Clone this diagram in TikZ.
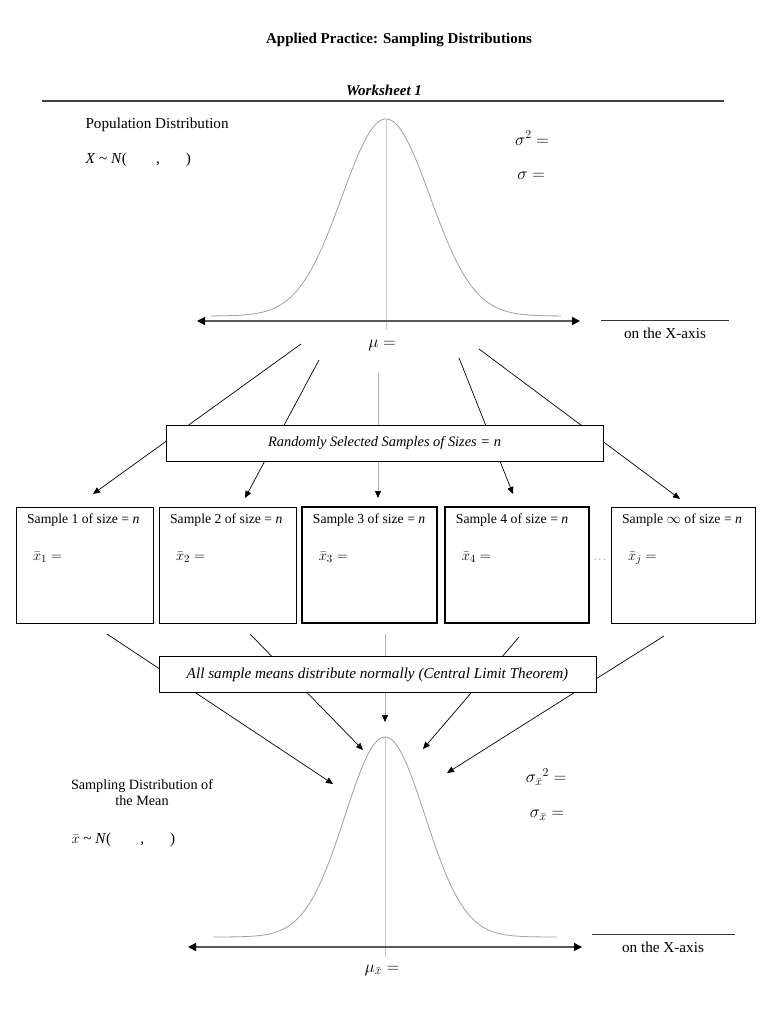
\documentclass[tikz,border=0pt]{standalone}
\usepackage{fontspec}
\setmainfont{Liberation Serif}
\usetikzlibrary{arrows.meta,positioning}

\tikzset{
  bell/.style={draw=gray!75, line width=0.8pt},
  midline/.style={draw=gray!45, line width=0.8pt},
  axis/.style={draw=black!65, line width=1.4pt, {Triangle[width=8pt,length=8pt,color=black]}-{Triangle[width=8pt,length=8pt,color=black]}},
  link/.style={line width=0.7pt, -{Triangle[width=6pt,length=7pt,color=black]}},
  samplebox/.style={draw, fill=white, minimum height=116pt, inner sep=0pt},
  banner/.style={draw, line width=0.9pt, fill=white, minimum width=437pt, minimum height=36pt},
  mathlbl/.style={font=\fontsize{16.5}{18}\selectfont},
  blank/.style={draw=black!80, line width=1pt}
}

\begin{document}
\begin{tikzpicture}[x=1pt,y=-1pt,font=\fontsize{15.2}{17}\selectfont]
\useasboundingbox[fill=white] (0,0) rectangle (768,1024);

% heading
\node[font=\fontsize{15}{17}\selectfont\bfseries] (title) at (399,40) {Applied Practice: Sampling Distributions};
\node[font=\fontsize{15}{17}\selectfont\bfseries\itshape] (sheet) at (384,90) {Worksheet 1};
\draw[draw=black!75, line width=1.4pt] (42,101) -- (724,101);

% population curve
\draw[midline] (386,119) -- (386,330);
\draw[bell] plot[domain=-175:175, samples=120, smooth] ({386+\x},{316-197*exp(-0.5*(\x/44)^2)});
\draw[axis] (197,321) -- (580,321);
\node[anchor=west] (pop) at (82,125) {Population Distribution};
\node[anchor=west] (popdist) at (82,160) {\textit{X} \textasciitilde{} \textit{N}(\hspace{29pt},\hspace{26pt})};
\node[mathlbl] (popvar) at (532,138) {$\sigma^2 =$};
\node[mathlbl] (popsd) at (531,176) {$\sigma =$};
\node[mathlbl] (popmean) at (382,345) {$\mu =$};
\draw[blank] (601,320) -- (729,320);
\node (popunit) at (665,333) {on the X-axis};

% curve to samples
\foreach \n/\xa/\ya/\xb/\yb/\c in {1/301/344/93/494/black, 2/319/360/245/498/black, 3/378/373/378/498/gray!60, 4/459/358/513/494/black, 5/479/349/680/499/black}{
  \coordinate (top\n) at (\xa,\ya);
  \coordinate (pick\n) at (\xb,\yb);
  \draw[link, draw=\c] (top\n) -- (pick\n);
}
\node[banner, font=\fontsize{14.4}{16}\selectfont\itshape] (random) at (384.5,443) {Randomly Selected Samples of Sizes = \textit{n}};

% samples
\foreach \n/\lab/\sub/\cx/\w/\lw in {1/1/1/84.5/137/0.9, 2/2/2/227.5/137/0.9, 3/3/3/369.5/135/1.3, 4/4/4/517/144/1.3, 5/{$\infty$}/j/683/144/0.9}{
  \node[samplebox, line width=\lw pt, minimum width=\w pt] (s\n) at (\cx,565) {};
  \node[below right=4pt and 8pt of s\n.north west, font=\fontsize{13.7}{15}\selectfont] (s\n-head) {Sample \lab{} of size = \textit{n}};
  \node[below right=42pt and 14pt of s\n.north west] (s\n-mean) {$\bar{x}_{\sub} =$};
}
\node[text=gray] (dots) at (600,560) {\fontsize{11}{12}\selectfont$\cdots$};

% samples to sampling distribution
\foreach \n/\xa/\ya/\xb/\yb/\c in {1/107/634/333/784/black, 2/250/634/363/750/black, 3/385/634/385/722/gray!60, 4/519/637/423/749/black, 5/664/636/447/773/black}{
  \coordinate (low\n) at (\xa,\ya);
  \coordinate (hit\n) at (\xb,\yb);
  \draw[link, draw=\c] (low\n) -- (hit\n);
}
\node[banner, font=\fontsize{15.2}{17}\selectfont\itshape] (clt) at (377.5,674.5) {All sample means distribute normally (Central Limit Theorem)};

% sampling distribution curve
\draw[midline] (385,737) -- (385,957);
\draw[bell] plot[domain=-172:172, samples=120, smooth] ({385+\x},{937-200*exp(-0.5*(\x/40)^2)});
\draw[axis] (188,947) -- (582,947);
\node[align=center, font=\fontsize{14.2}{16}\selectfont] (sdm) at (142,793) {Sampling Distribution of\\the Mean};
\node[anchor=west] (sdmdist) at (68,840) {$\bar{x}$\ \textasciitilde{} \textit{N}(\hspace{29pt},\hspace{26pt})};
\node[mathlbl] (sdmvar) at (546,777) {${\sigma_{\bar{x}}}^2 =$};
\node[mathlbl] (sdmsd) at (547,815) {$\sigma_{\bar{x}} =$};
\node[mathlbl] (sdmmean) at (382,970) {$\mu_{\bar{x}} =$};
\draw[blank] (592,934) -- (735,934);
\node (sdmunit) at (663,947) {on the X-axis};
\end{tikzpicture}
\end{document}
